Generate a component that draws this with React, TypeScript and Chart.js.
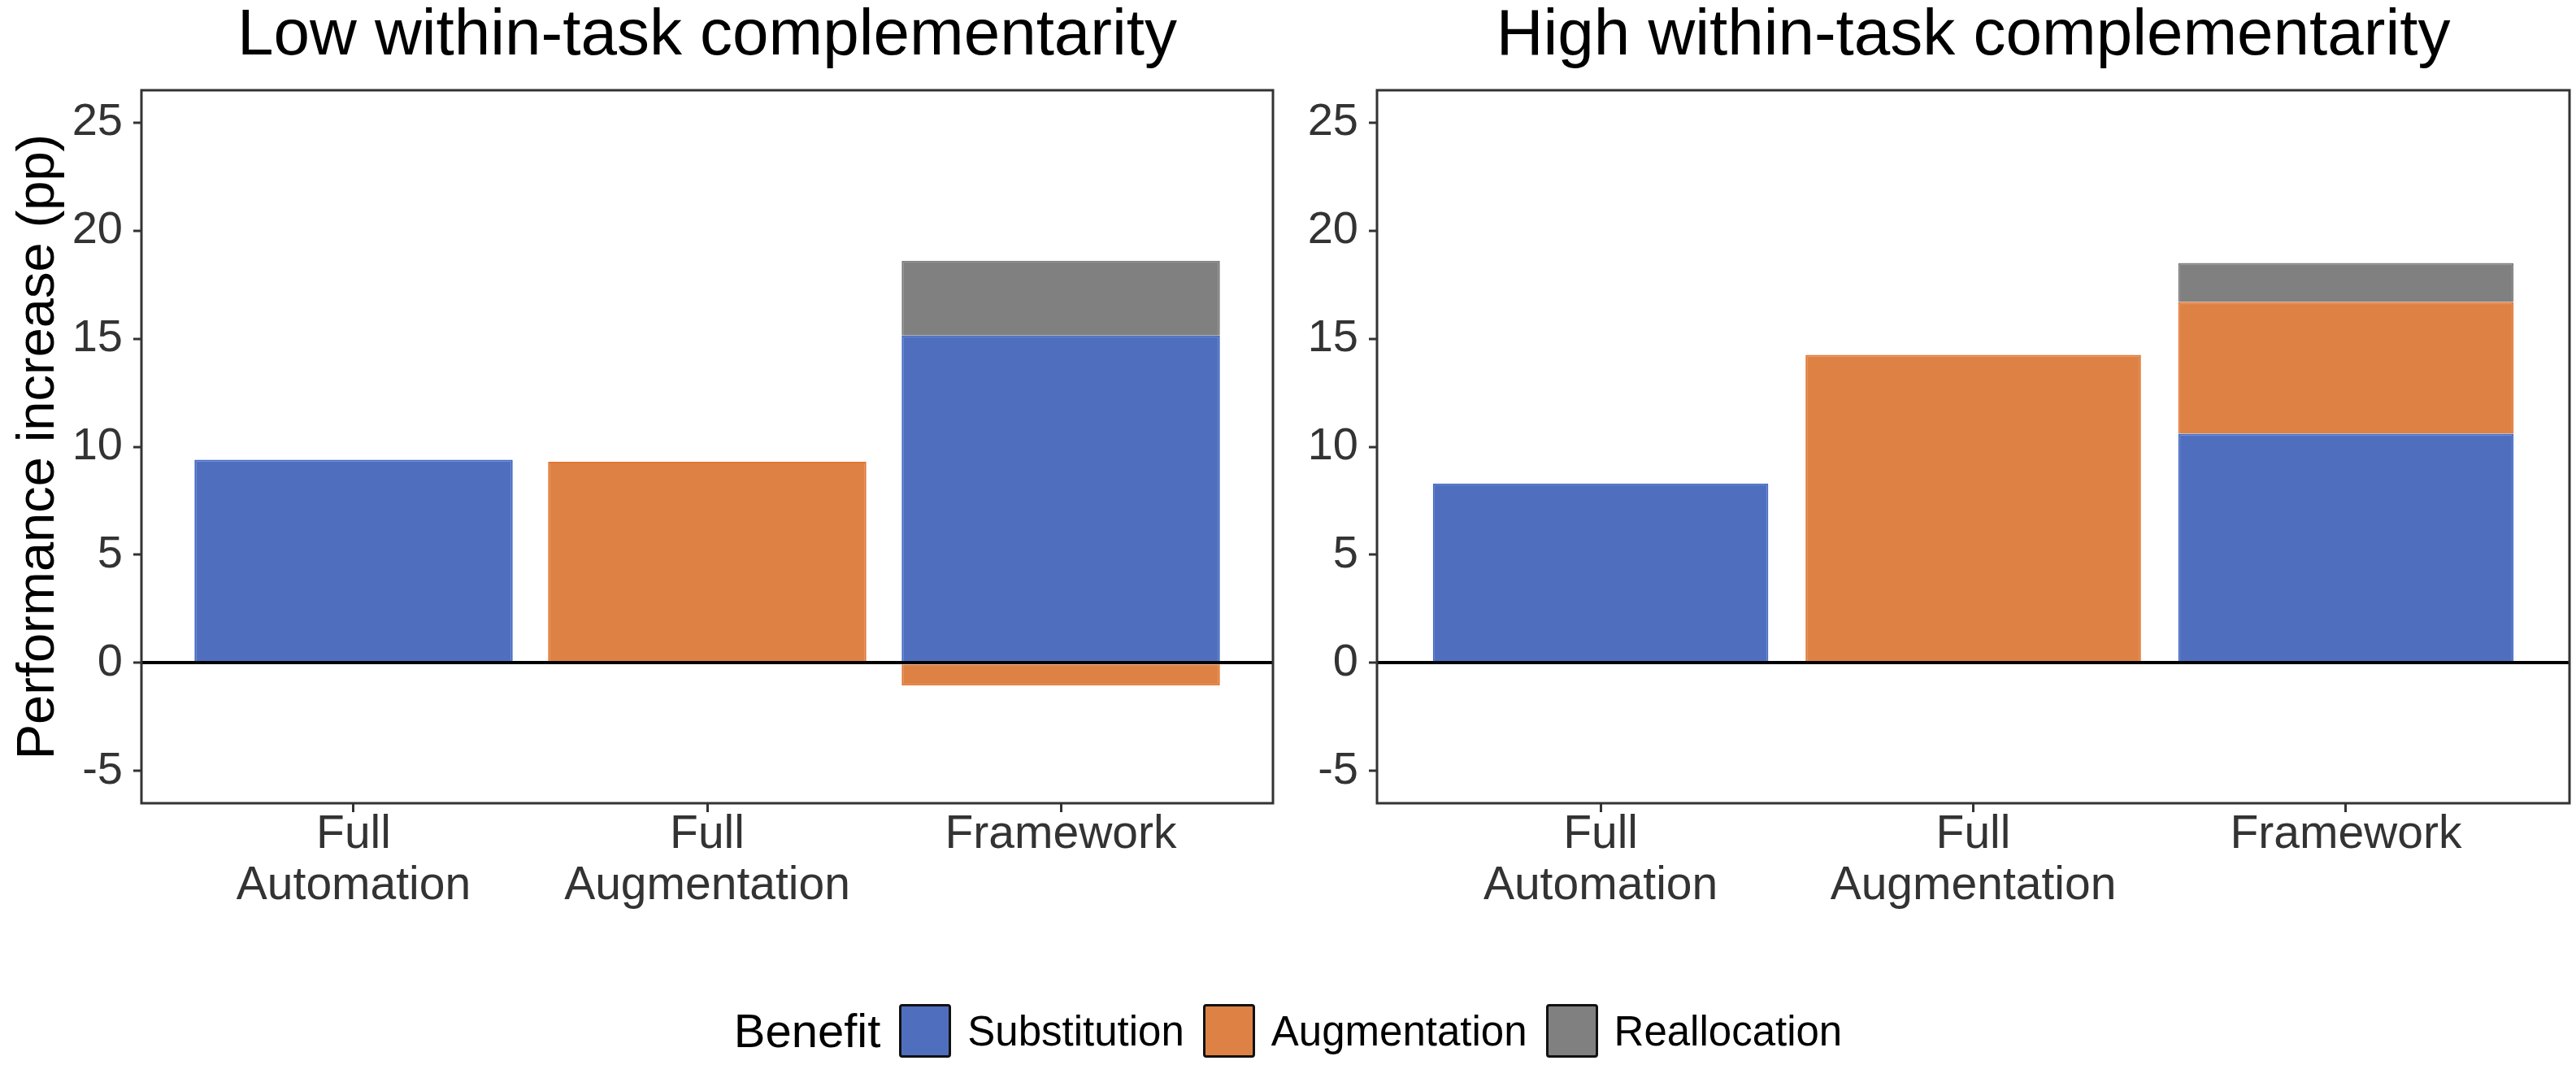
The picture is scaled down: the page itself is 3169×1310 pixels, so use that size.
import React, { useEffect, useRef } from "react";
import { Chart, registerables } from "chart.js";

Chart.register(...registerables);

const FONT = "'Liberation Sans', Arial, Helvetica, sans-serif";

// Categories on the x axis (multi-line labels) and their positions on a linear scale
const categories: string[][] = [["Full", "Automation"], ["Full", "Augmentation"], ["Framework"]];
const categoryPositions = [1, 2, 3];
const yTickValues = [-5, 0, 5, 10, 15, 20, 25];

const seriesNames = ["Substitution", "Augmentation", "Reallocation"];
const seriesFill = ["#4F6FBE", "#DD8244", "#7F807F"];
const seriesBorder = ["#4169C6", "#E37633", "#7B7B7B"];

// Low within-task complementarity (pp)
const lowSubstitution = [9.4, null, 15.15];
const lowAugmentation = [null, 9.3, -1.05];
const lowReallocation = [null, null, 3.46];

// High within-task complementarity (pp)
const highSubstitution = [8.3, null, 10.6];
const highAugmentation = [null, 14.25, 6.1];
const highReallocation = [null, null, 1.8];

const panelBorder = {
  id: "panelBorder",
  afterDraw(chart: any) {
    const { ctx, chartArea: a } = chart;
    ctx.save();
    ctx.strokeStyle = "#333333";
    ctx.lineWidth = 3;
    ctx.strokeRect(a.left, a.top, a.right - a.left, a.bottom - a.top);
    ctx.restore();
  },
};

type PanelProps = {
  title: string;
  series: (number | null)[][];
  showYTitle: boolean;
  left: number;
  width: number;
  height: number;
  yAxisWidth: number;
  rightPad: number;
};

function Panel({ title, series, showYTitle, left, width, height, yAxisWidth, rightPad }: PanelProps) {
  const ref = useRef<HTMLCanvasElement | null>(null);

  useEffect(() => {
    if (!ref.current) return;
    const chart = new Chart(ref.current, {
      type: "bar",
      data: {
        datasets: seriesNames.map((name, i) => ({
          label: name,
          data: series[i].map((v, j) => ({ x: categoryPositions[j], y: v })),
          backgroundColor: seriesFill[i],
          borderColor: seriesBorder[i],
          borderWidth: 2,
          barPercentage: 0.9,
          categoryPercentage: 1,
          stack: "benefit",
        })),
      },
      options: {
        responsive: false,
        maintainAspectRatio: false,
        animation: false,
        events: [],
        layout: { padding: { left: 0, right: rightPad, top: 0, bottom: 0 } },
        plugins: {
          legend: { display: false },
          tooltip: { enabled: false },
          title: {
            display: true,
            text: title,
            fullSize: false,
            align: "center",
            color: "#000000",
            font: { family: FONT, size: 80, weight: "normal", lineHeight: 1.13 },
            padding: { top: 0, bottom: 20.6 },
          },
        },
        scales: {
          x: {
            type: "linear",
            min: 0.4,
            max: 3.6,
            offset: false,
            stacked: true,
            afterBuildTicks: (scale: any) => {
              scale.ticks = categoryPositions.map((v) => ({ value: v }));
            },
            afterFit: (scale: any) => {
              scale.height = height - 988;
            },
            border: { display: false },
            grid: {
              offset: false,
              drawOnChartArea: false,
              drawTicks: true,
              tickLength: 11,
              tickColor: "#333333",
              tickWidth: 3,
            },
            ticks: {
              autoSkip: false,
              maxRotation: 0,
              padding: -4,
              color: "#333333",
              font: { family: FONT, size: 57, lineHeight: 1.12 },
              callback: (value: any) => {
                const idx = categoryPositions.indexOf(Number(value));
                return idx >= 0 ? categories[idx] : "";
              },
            },
          },
          y: {
            type: "linear",
            min: -6.5,
            max: 26.5,
            stacked: true,
            z: 1,
            afterBuildTicks: (scale: any) => {
              scale.ticks = yTickValues.map((v) => ({ value: v }));
            },
            afterFit: (scale: any) => {
              scale.width = yAxisWidth;
            },
            border: { display: false },
            grid: {
              drawOnChartArea: true,
              drawTicks: true,
              tickLength: 10,
              tickColor: "#333333",
              tickWidth: 3,
              color: (ctx: any) => (ctx.tick && ctx.tick.value === 0 ? "#000000" : "rgba(0,0,0,0)"),
              lineWidth: (ctx: any) => (ctx.tick && ctx.tick.value === 0 ? 4 : 0),
            },
            ticks: {
              padding: 13,
              color: "#333333",
              font: { family: FONT, size: 56 },
              callback: (value: any) => String(value),
            },
            title: {
              display: showYTitle,
              text: "Performance increase (pp)",
              color: "#000000",
              font: { family: FONT, size: 65, lineHeight: 1.2 },
              padding: { top: 9, bottom: 0 },
            },
          },
        },
      },
      plugins: [panelBorder],
    } as any);
    return () => chart.destroy();
  }, []);

  return (
    <canvas
      ref={ref}
      width={width}
      height={height}
      style={{ position: "absolute", left, top: 0, width, height }}
    />
  );
}

export default function App() {
  const chartHeight = 1160;
  return (
    <div
      style={{
        position: "absolute",
        left: 0,
        top: 0,
        width: 3169,
        height: 1310,
        background: "#ffffff",
        overflow: "hidden",
        fontFamily: FONT,
      }}
    >
      <Panel
        title="Low within-task complementarity"
        series={[lowSubstitution, lowAugmentation, lowReallocation]}
        showYTitle={true}
        left={0}
        width={1584}
        height={chartHeight}
        yAxisWidth={174}
        rightPad={18}
      />
      <Panel
        title="High within-task complementarity"
        series={[highSubstitution, highAugmentation, highReallocation]}
        showYTitle={false}
        left={1584}
        width={1585}
        height={chartHeight}
        yAxisWidth={110}
        rightPad={8}
      />
      <div
        style={{
          position: "absolute",
          left: 0,
          top: 1234,
          width: 3169,
          height: 68,
          display: "flex",
          alignItems: "center",
          justifyContent: "center",
          color: "#000000",
        }}
      >
        <span style={{ fontSize: 58, marginRight: 23, lineHeight: 1 }}>Benefit</span>
        {seriesNames.map((name, i) => (
          <React.Fragment key={name}>
            <span
              style={{
                width: 64,
                height: 66,
                boxSizing: "border-box",
                border: "3px solid #111111",
                borderRadius: 4,
                background: seriesFill[i],
                marginRight: 20,
              }}
            />
            <span style={{ fontSize: 51, marginRight: i < seriesNames.length - 1 ? 23 : 0, lineHeight: 1 }}>
              {name}
            </span>
          </React.Fragment>
        ))}
      </div>
    </div>
  );
}
